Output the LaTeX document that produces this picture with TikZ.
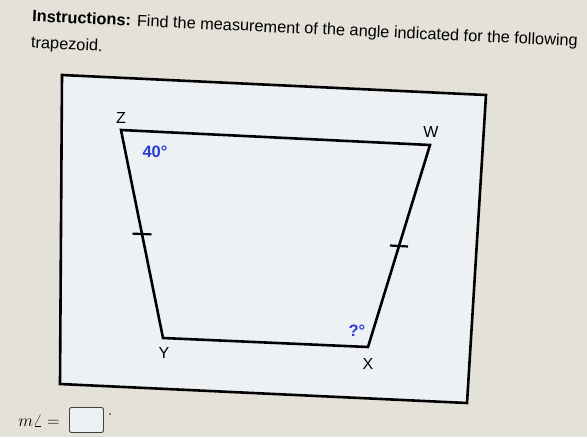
\documentclass[tikz,border=0pt]{standalone}
\usepackage{fontspec}
\setmainfont{Liberation Sans}
\usetikzlibrary{calc}
\definecolor{bg}{HTML}{E3E1D8}
\definecolor{panel}{HTML}{EDF1F4}
\definecolor{ablue}{HTML}{2B3BD4}
\begin{document}
\begin{tikzpicture}[x=1pt,y=-1pt,
  edge/.style={line width=2.6pt, line join=miter},
  vlabel/.style={inner sep=0pt, font=\fontsize{16}{16}\selectfont},
  alabel/.style={inner sep=0pt, text=ablue, font=\fontsize{16.5}{16.5}\selectfont\bfseries},
  ticky/.style={line width=2.2pt},
  instr/.style={inner sep=0pt, anchor=north west, rotate=-2.6, align=left, font=\fontsize{16.3}{26.5}\selectfont}]
\fill[bg] (0,0) rectangle (587,437);
\useasboundingbox (0,0) rectangle (587,437);
% outer panel
\coordinate (B1) at (62,75);
\coordinate (B2) at (486,95);
\coordinate (B3) at (467,403);
\coordinate (B4) at (60,384);
\filldraw[fill=panel, draw=black, line width=2.6pt, line join=miter] (B1) -- (B2) -- (B3) -- (B4) -- cycle;
% instructions
\node[instr] (instr) at (32.5,9.5) {\textbf{Instructions:} Find the measurement of the angle indicated for the following\\trapezoid.};
% trapezoid
\coordinate (Z) at (121,130);
\coordinate (W) at (430,145);
\coordinate (X) at (368,347);
\coordinate (Y) at (163,338);
\draw[edge] (Z) -- (W) -- (X) -- (Y) -- cycle;
% tick marks
\coordinate (mL) at ($(Z)!0.5!(Y)$);
\coordinate (mR) at ($(W)!0.5!(X)$);
\draw[ticky] ($(mL)+(-9.5,-0.4)$) -- ($(mL)+(9.5,0.4)$);
\draw[ticky] ($(mR)+(-9,-0.5)$) -- ($(mR)+(9,0.5)$);
% vertex labels
\node[vlabel] (lZ) at (121,118) {Z};
\node[vlabel] (lW) at (431,132) {W};
\node[vlabel] (lY) at (164,353) {Y};
\node[vlabel] (lX) at (368,364) {X};
% angle labels
\node[alabel] (a40) at (155,152) {40°};
\node[alabel] (aq) at (357,331) {?°};
% answer line
\node[inner sep=0pt, font=\fontsize{17}{17}\selectfont] (m) at (39,421) {$m\angle =$};
\node[draw=black!75, fill=panel, rounded corners=2pt, line width=0.9pt, minimum width=34pt, minimum height=25pt, inner sep=0pt] (ans) at (86.5,420) {};
\node[circle, fill=black!70, inner sep=0pt, minimum size=2pt] (deg) at (110,414) {};
\end{tikzpicture}
\end{document}
